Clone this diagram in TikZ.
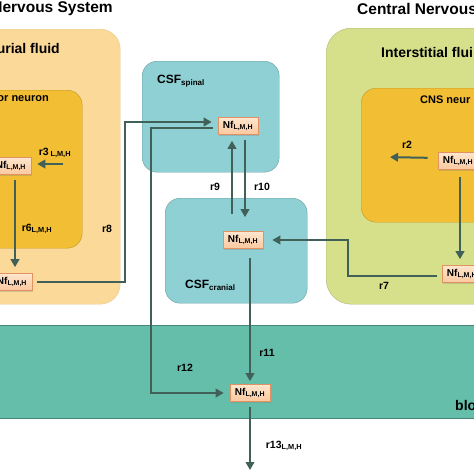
\documentclass[tikz,border=0pt]{standalone}
\usepackage{fontspec}
\setmainfont{Liberation Sans}
\usepackage{tikz,xcolor}
\usetikzlibrary{arrows.meta, positioning, shadows}
\definecolor{pnscolor}{RGB}{251,217,152}
\definecolor{neuroncolor}{RGB}{241,190,52}
\definecolor{csfcolor}{RGB}{142,208,212}
\definecolor{isfcolor}{RGB}{214,224,139}
\definecolor{bloodcolor}{RGB}{101,190,170}
\definecolor{flowcolor}{RGB}{64,96,88}
\definecolor{nftop}{RGB}{254,230,206}
\definecolor{nfbottom}{RGB}{251,200,158}
\definecolor{nfdraw}{RGB}{226,146,96}
\newcommand{\lmh}{\textsubscript{L,M,H}}

\begin{document}
\begin{tikzpicture}[x=1pt, y=-1pt,
		>={Triangle[length=8pt,width=8.5pt]},
		box/.style = {rectangle, rounded corners=15pt, anchor=north west, inner sep=0pt},
		pnsbox/.style = {box, fill=pnscolor, draw=pnscolor!92!black, rounded corners=20pt},
		neuronbox/.style = {box, fill=neuroncolor, draw=neuroncolor!80!black},
		csfbox/.style = {box, fill=csfcolor, draw=csfcolor!75!black},
		isfbox/.style = {box, fill=isfcolor, draw=isfcolor!82!black, rounded corners=25pt},
		bloodbox/.style = {rectangle, anchor=north west, inner sep=0pt, fill=bloodcolor, draw=bloodcolor!70!black, line width=1pt},
		nf/.style = {rectangle, draw=nfdraw, line width=0.6pt, top color=nftop, bottom color=nfbottom, minimum width=40pt, minimum height=17pt, inner sep=1pt, font=\bfseries\fontsize{10}{12}\selectfont, drop shadow={opacity=0.3, shadow xshift=1pt, shadow yshift=-1pt}},
		flow/.style = {->, draw=flowcolor, line width=2pt, shorten >=6pt, shorten <=5pt},
		rlabel/.style = {inner sep=0pt, font=\bfseries\fontsize{10.5}{12}\selectfont},
		heading/.style = {inner sep=0pt, font=\bfseries\fontsize{15.5}{18}\selectfont},
		fluid/.style = {inner sep=0pt, font=\bfseries\fontsize{14}{16}\selectfont},
		cell/.style = {inner sep=0pt, font=\bfseries\fontsize{11}{13}\selectfont}
		]
		\useasboundingbox (0,0) rectangle (474,474);
		\clip (0,0) rectangle (474,474);
		
		% compartments
		\node (pnsfluid) [pnsbox, minimum width=150pt, minimum height=275pt] at (-30,29) {};
		\node (pnsneuron) [neuronbox, minimum width=112pt, minimum height=158pt] at (-30,90) {};
		\node (spinal) [csfbox, minimum width=137pt, minimum height=111pt] at (142,61) {};
		\node (cranial) [csfbox, minimum width=142pt, minimum height=105pt] at (165,198) {};
		\node (isf) [isfbox, minimum width=174pt, minimum height=276pt] at (326,28) {};
		\node (cnsneuron) [neuronbox, minimum width=139pt, minimum height=134pt] at (361,88) {};
		\node (blood) [bloodbox, minimum width=490pt, minimum height=93pt] at (-8,325) {};
		
		% headings
		\node (pnstitle) [heading, anchor=east] at (113,9) {Nervous System};
		\node (cnstitle) [heading, anchor=west] at (357,9) {Central Nervous};
		\node (pnsfluidlabel) [fluid, anchor=east] at (60,48) {urial fluid};
		\node (pnsneuronlabel) [cell, anchor=east] at (49,99) {or neuron};
		\node (spinallabel) [cell, anchor=west, font=\bfseries\fontsize{12}{14}\selectfont] at (157,81) {CSF\textsubscript{spinal}};
		\node (craniallabel) [cell, anchor=west, font=\bfseries\fontsize{12}{14}\selectfont] at (185,285) {CSF\textsubscript{cranial}};
		\node (isflabel) [fluid, anchor=west] at (381,52) {Interstitial flui};
		\node (cnsneuronlabel) [cell, anchor=west] at (420,100) {CNS neur};
		\node (bloodlabel) [fluid, anchor=west] at (455,405) {blo};
		
		% neurofilament pools
		\node (pnfa) [nf] at (11,166) {Nf\lmh};
		\node (pnfb) [nf] at (12,282) {Nf\lmh};
		\node (snf) [nf] at (238,126) {Nf\lmh};
		\node (cnf) [nf] at (243,240) {Nf\lmh};
		\node (bnf) [nf] at (250,393) {Nf\lmh};
		\node (nnf) [nf] at (458,161) {Nf\lmh};
		\node (inf) [nf] at (462,274) {Nf\lmh};
		
		\coordinate (r3start) at (68,164);
		\coordinate (r2end) at (384,157);
		\coordinate (r8bend) at (125,122);
		\coordinate (r12bend) at (151,128);
		\coordinate (r7bend) at (348,240);
		\coordinate (out) at (250,476);
		
		% rates
		\node (lr2) [rlabel] at (407,145) {r2};
		\node (lr3) [rlabel] at (55,153) {r3\,\lmh};
		\node (lr6) [rlabel] at (37,229) {r6\lmh};
		\node (lr7) [rlabel] at (384,286) {r7};
		\node (lr8) [rlabel] at (107,229) {r8};
		\node (lr9) [rlabel] at (215,187) {r9};
		\node (lr10) [rlabel] at (262,187) {r10};
		\node (lr11) [rlabel] at (267,353) {r11};
		\node (lr12) [rlabel] at (185,368) {r12};
		\node (lr13) [rlabel] at (284,446) {r13\lmh};
		
		\draw[flow] (r3start) -- (r3start -| pnfa.east);
		\draw[flow] ([xshift=4pt]pnfa.south) -- ([xshift=4pt]pnfa.south |- pnfb.north);
		\draw[flow] (pnfb.east) -| (r8bend) -- (r8bend -| snf.west);
		\draw[flow] (r12bend -| snf.west) -- (r12bend) |- (bnf.west);
		\draw[flow, shorten <=17pt] ([xshift=-11pt]cnf.north) -- ([xshift=-11pt]cnf.north |- snf.south);
		\draw[flow, shorten >=14pt] ([xshift=7pt]snf.south) -- ([xshift=7pt]snf.south |- cnf.north);
		\draw[flow, shorten <=9pt, shorten >=3pt] ([xshift=7pt]cnf.south) -- (bnf.north);
		\draw[flow] (bnf.south) -- (out);
		\draw[flow, shorten <=10pt] ([yshift=3pt]nnf.west) -- (r2end);
		\draw[flow, shorten <=7pt] ([xshift=2pt]nnf.south) -- ([xshift=2pt]nnf.south |- inf.north);
		\draw[flow, shorten >=9pt] ([yshift=-2pt]inf.west) -| (r7bend) -- (cnf.east);
	\end{tikzpicture}
\end{document}
